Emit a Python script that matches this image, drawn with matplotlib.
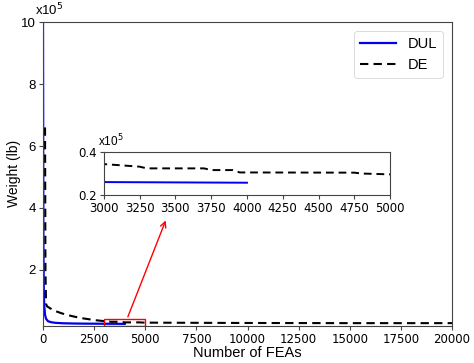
import matplotlib
matplotlib.use("Agg")
import matplotlib.pyplot as plt
from matplotlib.patches import Rectangle
from matplotlib.ticker import FuncFormatter

# weight history in lb
dul_fea = [0, 20, 40, 60, 100, 150, 250, 400, 600, 1000, 1500, 2000, 3000, 4000]
dul_weight = [10.0e5, 3.0e5, 1.3e5, 0.85e5, 0.55e5, 0.42e5, 0.34e5, 0.31e5, 0.29e5,
              0.275e5, 0.268e5, 0.264e5, 0.26e5, 0.257e5]

de_fea = [100, 120, 150, 200, 400, 600, 900, 1200, 1600, 2000, 2500, 3000, 3250,
          3300, 3700, 3750, 3900, 3950, 4750, 4800, 5000, 7500, 10000, 15000, 20000]
de_weight = [6.6e5, 2.0e5, 0.9e5, 0.82e5, 0.74e5, 0.67e5, 0.6e5, 0.54e5, 0.48e5,
             0.43e5, 0.38e5, 0.344e5, 0.332e5, 0.324e5, 0.324e5, 0.316e5, 0.316e5,
             0.305e5, 0.304e5, 0.3e5, 0.296e5, 0.29e5, 0.285e5, 0.28e5, 0.28e5]

main_xticks = [0, 2500, 5000, 7500, 10000, 12500, 15000, 17500, 20000]
main_yticks = [2e5, 4e5, 6e5, 8e5, 10e5]
zoom_xticks = [3000, 3250, 3500, 3750, 4000, 4250, 4500, 4750, 5000]
zoom_yticks = [0.2e5, 0.4e5]

scale = 1e5
fmt = FuncFormatter(lambda v, p: f"{v / scale:g}")
spine_col = "#444444"

fig = plt.figure(figsize=(4.74, 3.63), dpi=100)
ax = fig.add_axes([0.0907, 0.103, 0.863, 0.836])

ax.plot(dul_fea, dul_weight, color="#0000ee", lw=1.6, label="DUL")
ax.plot(de_fea, de_weight, color="black", lw=1.5, ls=(0, (4, 2.5)), label="DE")
ax.set_xlim(0, 20000)
ax.set_ylim(0.2e5, 10e5)
ax.set_xticks(main_xticks)
ax.set_yticks(main_yticks)
ax.yaxis.set_major_formatter(fmt)
ax.tick_params(labelsize=8.5, length=3, color=spine_col, pad=2)
for lab in ax.get_yticklabels():
    lab.set_family("Liberation Sans")
    lab.set_fontsize(9.5)
for s in ax.spines.values():
    s.set_color(spine_col)
ax.set_xlabel("Number of FEAs", family="Liberation Sans", fontsize=10.5, labelpad=0)
ax.set_ylabel("Weight (lb)", family="Liberation Sans", fontsize=10, labelpad=0)
ax.text(-0.02, 1.012, "x10$^{5}$", transform=ax.transAxes, family="Liberation Sans",
        fontsize=9.5, va="bottom", ha="left")

leg = ax.legend(loc="upper right", prop={"family": "Liberation Sans", "size": 10.5},
                handlelength=2.5, borderaxespad=0.6)
leg.get_frame().set_linewidth(0.6)

# zoom window and arrow
ax.add_patch(Rectangle((3000, 0.2e5), 2000, 0.2e5, fill=False, ec="red", lw=1.0, zorder=5))
ax.annotate("", xy=(6050, 3.68e5), xytext=(4100, 0.4e5),
            arrowprops=dict(arrowstyle="->", color="red", lw=1.0))

ins = fig.add_axes([0.219, 0.463, 0.604, 0.118])
ins.plot(dul_fea, dul_weight, color="#0000ee", lw=1.4)
ins.plot(de_fea, de_weight, color="black", lw=1.4, ls=(0, (4, 2.5)))
ins.set_xlim(3000, 5000)
ins.set_ylim(0.2e5, 0.4e5)
ins.set_xticks(zoom_xticks)
ins.set_yticks(zoom_yticks)
ins.yaxis.set_major_formatter(fmt)
ins.tick_params(labelsize=8.5, length=3, color=spine_col, pad=2)
for s in ins.spines.values():
    s.set_color(spine_col)
ins.text(-0.02, 1.06, "x10$^{5}$", transform=ins.transAxes, family="Liberation Sans",
         fontsize=8.5, va="bottom", ha="left")

fig.savefig("out.png", dpi=100)
